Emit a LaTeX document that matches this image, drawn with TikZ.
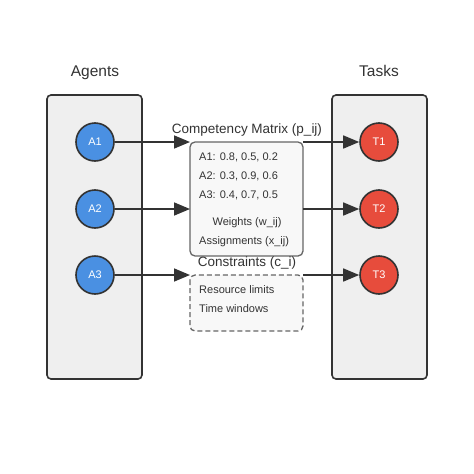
\documentclass[tikz,border=0pt]{standalone}
\usepackage{fontspec}
\setmainfont{Liberation Sans}
\usetikzlibrary{arrows.meta}
\definecolor{boxfill}{HTML}{EFEFEF}
\definecolor{dark}{HTML}{333333}
\definecolor{agentblue}{HTML}{4A90E2}
\definecolor{taskred}{HTML}{E74C3C}
\definecolor{midgray}{HTML}{666666}
\definecolor{paper}{HTML}{F8F8F8}
\tikzset{
  group/.style={draw=dark, fill=boxfill, line width=1.6pt, rounded corners=4pt},
  agent/.style={circle, draw=dark, fill=agentblue, line width=1.6pt, minimum size=38pt, inner sep=0pt, text=white, font=\fontsize{11}{13}\selectfont},
  task/.style={agent, fill=taskred},
  title/.style={text=dark, font=\fontsize{15.5}{18}\selectfont, anchor=base, inner sep=0pt},
  mtitle/.style={text=dark, font=\fontsize{13.5}{16}\selectfont, anchor=base, inner sep=0pt},
  itemtxt/.style={text=dark, font=\fontsize{11}{13}\selectfont, anchor=west, inner sep=0pt},
  matbox/.style={draw=midgray, fill=paper, line width=1.3pt, rounded corners=5pt},
  conbox/.style={matbox, dashed, dash pattern=on 5pt off 3pt},
  link/.style={draw=dark, line width=1.6pt, -{Triangle[length=16pt,width=13pt]}},
}
\begin{document}
\begin{tikzpicture}[x=1pt,y=-1pt]
\useasboundingbox (0,0) rectangle (474,474);
\fill[white] (0,0) rectangle (474,474);
% group boxes
\draw[group] (47,95) rectangle (142,379);
\draw[group] (332,95) rectangle (427,379);
\node[title] (agentsT) at (95,76) {Agents};
\node[title] (tasksT) at (379,76) {Tasks};
% middle boxes
\draw[matbox] (190,142) rectangle (303,256);
\coordinate (compNW) at (190,142);
\coordinate (compNE) at (303,142);
\coordinate (compW2) at (190,209);
\coordinate (compE2) at (303,209);
\draw[conbox] (190,275) rectangle (303,331);
\coordinate (conNW) at (190,275);
\coordinate (conNE) at (303,275);
\node[mtitle] (compT) at (247,133.5) {Competency Matrix (p\_ij)};
\node[itemtxt] (r1) at (199,157) {A1: 0.8, 0.5, 0.2};
\node[itemtxt] (r2) at (199,176) {A2: 0.3, 0.9, 0.6};
\node[itemtxt] (r3) at (199,195) {A3: 0.4, 0.7, 0.5};
\node[text=dark, font=\fontsize{11}{13}\selectfont, inner sep=0pt] (w) at (247,223) {Weights (w\_ij)};
\node[itemtxt] (asg) at (199,242) {Assignments (x\_ij)};
\node[mtitle] (conT) at (247,266) {Constraints (c\_i)};
\node[itemtxt] (res) at (199,290) {Resource limits};
\node[itemtxt] (tw) at (199,309) {Time windows};
% agents and tasks
\node[agent] (A1) at (95,142) {A1};
\node[agent] (A2) at (95,209) {A2};
\node[agent] (A3) at (95,275) {A3};
\node[task] (T1) at (379,142) {T1};
\node[task] (T2) at (379,209) {T2};
\node[task] (T3) at (379,275) {T3};
% connectors
\draw[link] (A1) -- (compNW);
\draw[link] (A2) -- (compW2);
\draw[link] (A3) -- (conNW);
\draw[link] (compNE) -- (T1);
\draw[link] (compE2) -- (T2);
\draw[link] (conNE) -- (T3);
\end{tikzpicture}
\end{document}
